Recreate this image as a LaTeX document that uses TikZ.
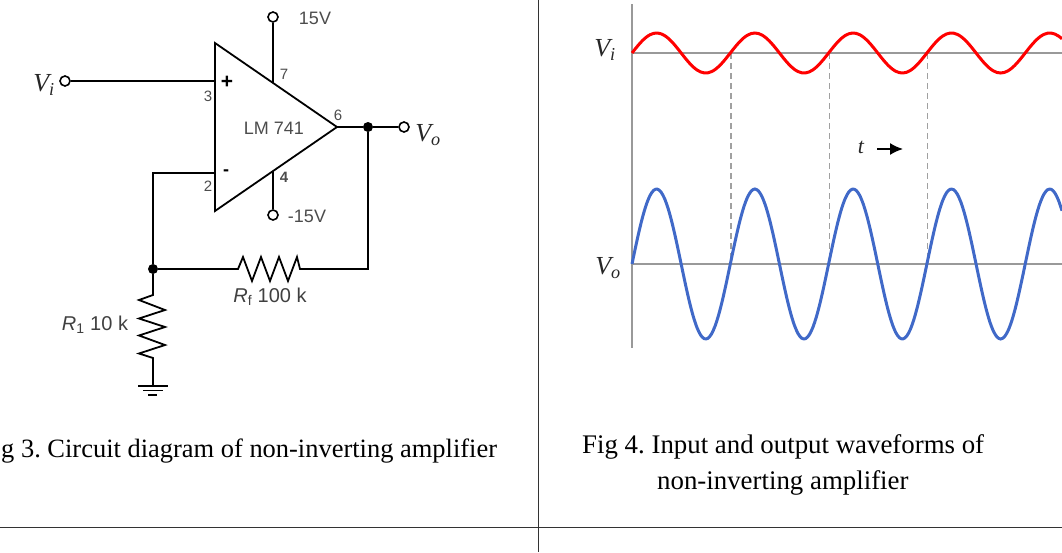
\documentclass[tikz,border=0pt]{standalone}
\usepackage{fontspec}
\setmainfont{Liberation Serif}
\newfontfamily\labelfont{Liberation Sans}
\usetikzlibrary{arrows.meta}
\frenchspacing
\definecolor{axisgray}{HTML}{999999}
\definecolor{dashgray}{HTML}{A0A0A0}
\definecolor{wblue}{HTML}{4069C8}
\definecolor{wred}{HTML}{FF0000}
\definecolor{rulecol}{HTML}{333333}
\tikzset{
  x=1pt,y=-1pt,
  wire/.style={line width=1.8pt,black,line join=miter},
  term/.style={circle,draw=black,line width=1.6pt,fill=white,minimum size=10pt,inner sep=0pt},
  joint/.style={circle,fill=black,minimum size=10pt,inner sep=0pt},
  pinlabel/.style={font=\labelfont\fontsize{15}{17}\selectfont,text=black!70,inner sep=0pt},
  valuelabel/.style={font=\labelfont\fontsize{18}{20}\selectfont,text=black!70,inner sep=0pt},
  complabel/.style={font=\labelfont\fontsize{20}{22}\selectfont,text=black!75,inner sep=0pt},
  varlabel/.style={font=\fontsize{26}{28}\selectfont\itshape,text=black!85,inner sep=0pt},
  caption/.style={font=\fontsize{26.85}{29}\selectfont,inner sep=0pt},
  rulerline/.style={line width=1pt,rulecol},
  axisline/.style={line width=2.2pt,axisgray},
  guide/.style={line width=1.4pt,dashgray,dash pattern=on 6pt off 4pt},
}
\begin{document}
\begin{tikzpicture}
\useasboundingbox (0,0) rectangle (1062,552);
% page rules
\coordinate (rt) at (538,0); \coordinate (rb) at (538,552);
\coordinate (hl) at (0,527); \coordinate (hr) at (1062,527);
\draw[rulerline] (rt) -- (rb);
\draw[rulerline] (hl) -- (hr);
% op-amp
\coordinate (ampTL) at (215,43);
\coordinate (ampBL) at (215,211);
\coordinate (tip) at (337,127);
\draw[wire] (ampTL) -- (ampBL) -- (tip) -- cycle;
\node[valuelabel] (ampname) at (274,128) {LM 741};
\coordinate (pinP) at (215,81);
\coordinate (pinN) at (215,173);
\coordinate (pinT) at (273,83);
\coordinate (pinB) at (273,171);
\node[term] (vin) at (65,81) {};
\node[term] (vp) at (273,17) {};
\node[term] (vn) at (273,215) {};
\node[term] (vout) at (404,127) {};
\node[joint] (jout) at (368,127) {};
\node[joint] (jfb) at (153,269) {};
\coordinate (corN) at (153,173);
\coordinate (corF) at (368,269);
\draw[wire] (vin) -- (pinP);
\draw[wire] (vp) -- (pinT);
\draw[wire] (vn) -- (pinB);
\draw[wire] (tip) -- (jout) -- (vout);
\draw[wire] (pinN) -- (corN) -- (jfb);
% feedback resistor
\draw[wire] (jfb) -- (238,269) -- (243,257) -- (252,281) -- (261,257) -- (270,281) -- (279,257) -- (288,281) -- (297,257) -- (300,269) -- (corF) -- (jout);
% R1 and ground
\coordinate (gnd) at (153,386);
\draw[wire] (jfb) -- (153,295) -- (139,300) -- (165,310) -- (139,318.5) -- (165,327) -- (139,335.5) -- (165,345) -- (139,353.5) -- (153,358) -- (gnd);
\draw[wire] (138,386) -- (168,386);
\draw[wire] (143,390.5) -- (163,390.5);
\draw[wire] (148,395) -- (157,395);
% labels circuit
\node[valuelabel] (l15) at (315,18) {15V};
\node[valuelabel] (lm15) at (307,216) {-15V};
\node[pinlabel] (l7) at (284,74) {7};
\node[pinlabel] (l3) at (208,96) {3};
\node[pinlabel] (l2) at (208,186) {2};
\node[pinlabel] (l4) at (284,177) {\bfseries 4};
\node[pinlabel] (l6) at (338,115) {6};
\node[font=\labelfont\bfseries\fontsize{21}{21}\selectfont,inner sep=0pt] (plus) at (227,82) {+};
\node[font=\labelfont\bfseries\fontsize{18}{18}\selectfont,inner sep=0pt] (minus) at (226,173) {-};
\node[varlabel] (tvi) at (44,85) {\textit{V}\textsubscript{i}};
\node[varlabel] (tvo) at (428,135) {\textit{V}\textsubscript{o}};
\node[complabel] (lr1) at (95,325) {\textit{R}\textsubscript{1} 10 k};
\node[complabel] (lrf) at (270,297) {\textit{R}\textsubscript{f} 100 k};
% waveforms
\coordinate (axT) at (632,4); \coordinate (axB) at (632,348);
\coordinate (b1L) at (632,53); \coordinate (b1R) at (1062,53);
\coordinate (b2L) at (632,264); \coordinate (b2R) at (1062,264);
\draw[guide] (731,53) -- (731,264);
\draw[guide] (829.5,53) -- (829.5,264);
\draw[guide] (927.5,53) -- (927.5,264);
\draw[axisline] (axT) -- (axB);
\draw[axisline] (b1L) -- (b1R);
\draw[axisline] (b2L) -- (b2R);
\begin{scope}
\clip (620,0) rectangle (1062,360);
\draw[wred,line width=3pt] plot[smooth,domain=0:430,samples=120] ({632+\x},{53-20*sin(\x/98.3*360)});
\draw[wblue,line width=3pt] plot[smooth,domain=0:430,samples=120] ({632+\x},{264-75*sin(\x/98.3*360)});
\end{scope}
\node[varlabel] (tvi2) at (605,50) {\textit{V}\textsubscript{i}};
\node[varlabel] (tvo2) at (608,268) {\textit{V}\textsubscript{o}};
\node[varlabel] (tt) at (861,147) {\fontsize{22}{24}\selectfont t};
\coordinate (arrA) at (877,149); \coordinate (arrB) at (903,149);
\draw[-{Latex[length=13pt,width=12pt]},line width=1.6pt] (arrA) -- (arrB);
% captions
\node[caption,anchor=base west,font=\fontsize{26.45}{29}\selectfont] (cap3) at (1,457) {g 3. Circuit diagram of non-inverting amplifier};
\node[caption,anchor=base west] (cap4a) at (582,453) {Fig 4. Input and output waveforms of};
\node[caption,anchor=base west] (cap4b) at (657,489) {non-inverting amplifier};
\end{tikzpicture}
\end{document}
